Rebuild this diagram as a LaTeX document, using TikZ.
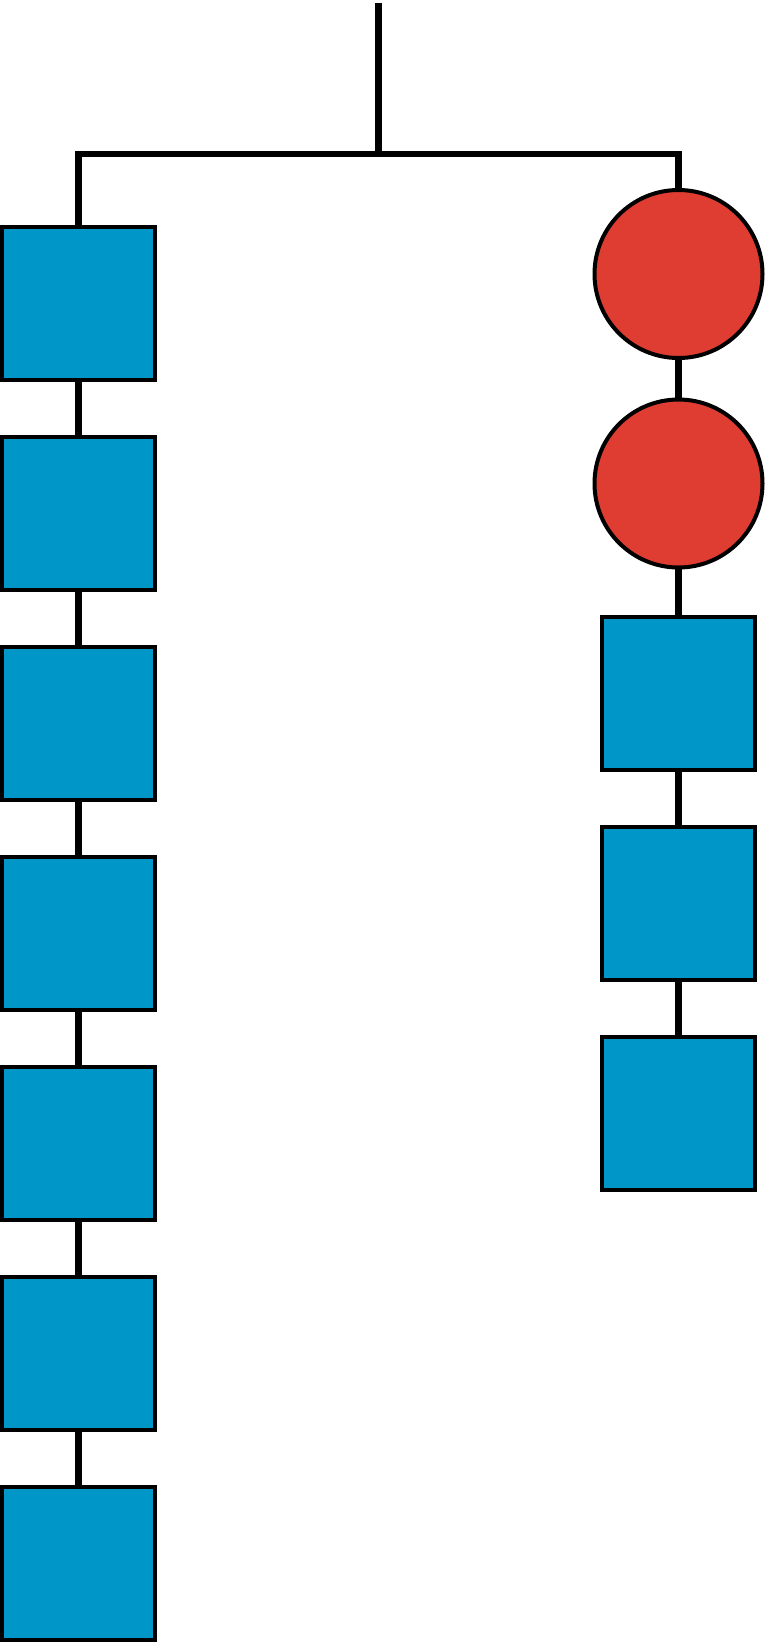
\documentclass[tikz,border=0pt]{standalone}
\definecolor{boxblue}{RGB}{0,150,200}
\definecolor{circred}{RGB}{224,61,50}
\begin{document}
\begin{tikzpicture}[x=1pt,y=-1pt,
  sqbox/.style={draw=black,line width=4pt,fill=boxblue,minimum width=152.7pt,minimum height=153pt,inner sep=0pt,outer sep=0pt},
  rcirc/.style={draw=black,line width=4pt,fill=circred,circle,minimum size=168pt,inner sep=0pt,outer sep=0pt},
  conn/.style={draw=black,line width=6.4pt}]
\useasboundingbox (0,0) rectangle (765,1642);
\coordinate (top) at (378.5,3);
\coordinate (split) at (378.5,153.7);
\foreach \i in {1,...,7} {
  \node[sqbox] (L\i) at (78.4,{303.5+210*(\i-1)}) {};
}
\node[rcirc] (C1) at (678.5,274) {};
\node[rcirc] (C2) at (678.5,483.5) {};
\foreach \i in {1,2,3} {
  \node[sqbox] (R\i) at (678.5,{693.5+210*(\i-1)}) {};
}
\draw[conn] (top) -- (split);
\draw[conn,line join=miter] (L1.north) -- (L1.north |- split) -- (C1.north |- split) -- (C1.north);
\foreach \i/\j in {1/2,2/3,3/4,4/5,5/6,6/7} {
  \draw[conn] (L\i.south) -- (L\j.north);
}
\draw[conn] (C1.south) -- (C2.north);
\draw[conn] (C2.south) -- (R1.north);
\draw[conn] (R1.south) -- (R2.north);
\draw[conn] (R2.south) -- (R3.north);
\end{tikzpicture}
\end{document}
